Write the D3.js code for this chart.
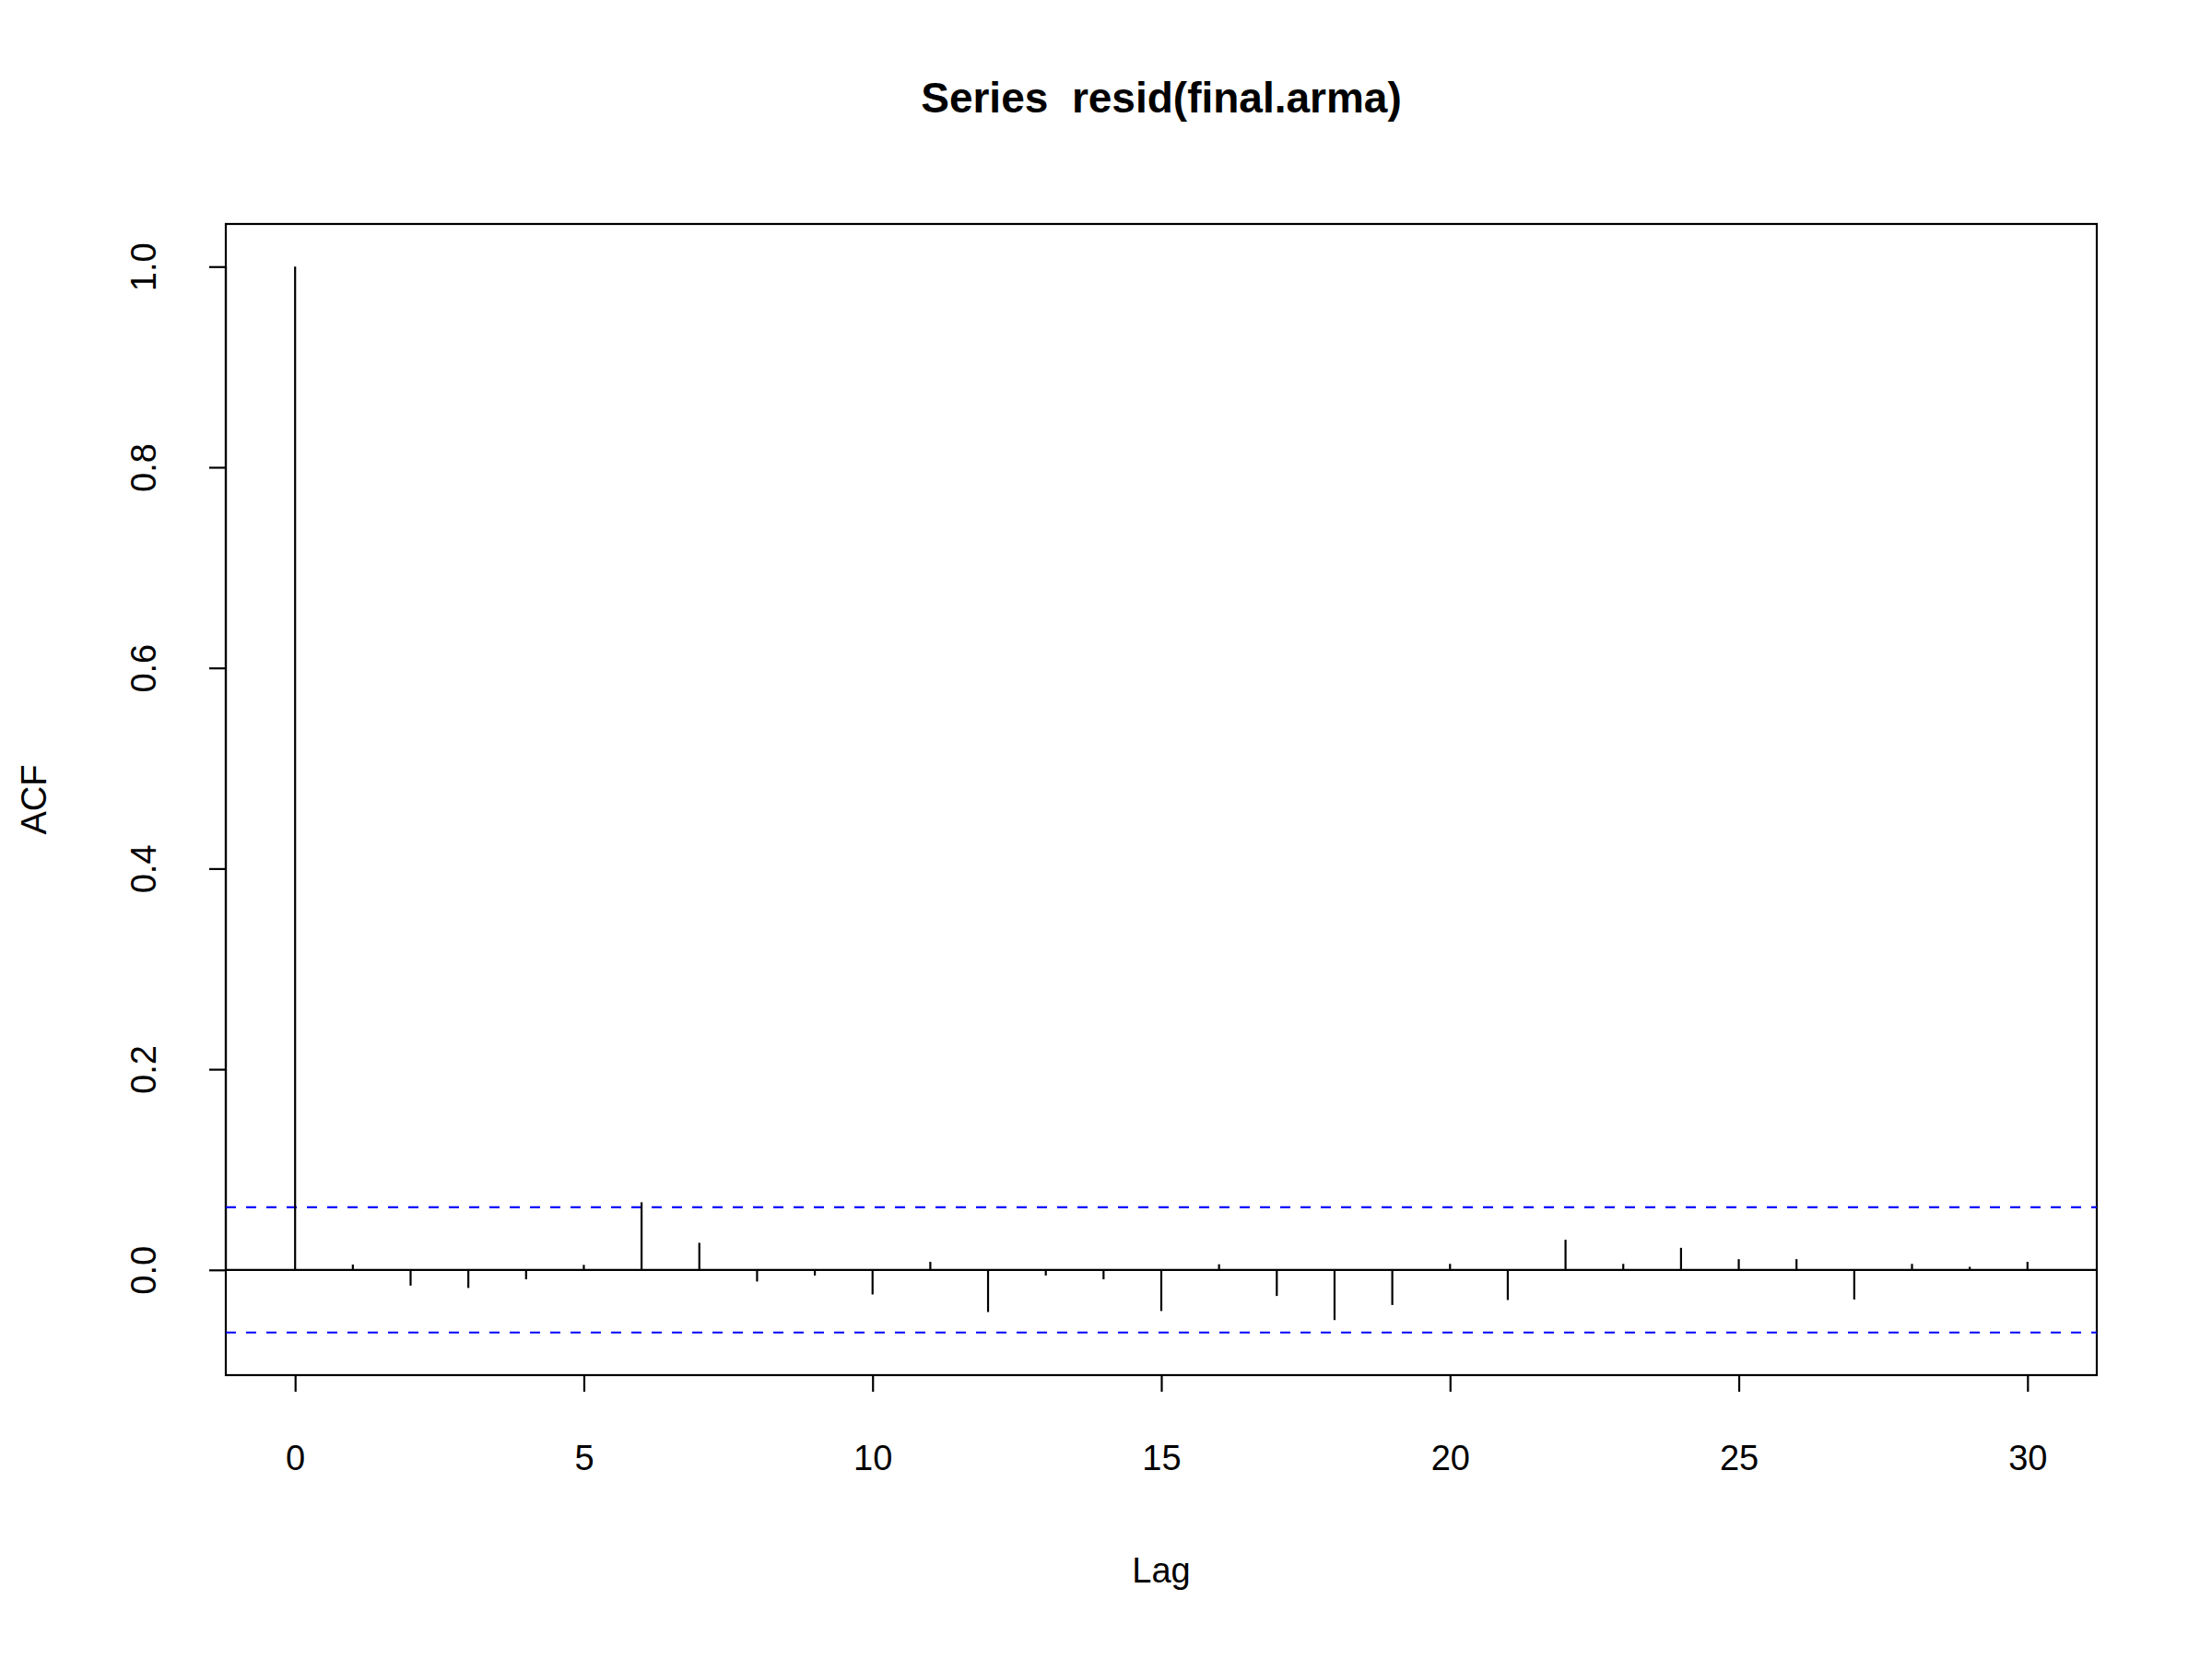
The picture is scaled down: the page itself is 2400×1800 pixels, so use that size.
<!DOCTYPE html>
<html><head><meta charset="utf-8">
<script src="https://cdn.jsdelivr.net/npm/d3@7"></script>
<style>body{margin:0;background:#fff}</style></head>
<body><svg id="c" width="2400" height="1800"></svg>
<script>
const lags = d3.range(0,31);
const acf = [1.0,0.0053,-0.0157,-0.018,-0.0094,0.005,0.0674,0.027,-0.0116,-0.0056,-0.0245,0.008,-0.042,-0.0056,-0.0094,-0.041,0.0056,-0.026,-0.050,-0.035,0.006,-0.030,0.030,0.006,0.022,0.0107,0.0107,-0.0295,0.006,0.003,0.008];
const ci = 0.0624;
const xTicks = [0,5,10,15,20,25,30];
const yTicks = [0,0.2,0.4,0.6,0.8,1.0];

const svg = d3.select("#c");
const L=245,R=2275,T=243,B=1492;
const x = d3.scaleLinear().domain([-1.2,31.2]).range([L,R]);
const y = d3.scaleLinear().domain([-0.1049,1.0425]).range([B,T]);
const font = "Liberation Sans, Arial, sans-serif";

svg.append("g").attr("transform",`translate(0,${B})`)
  .call(d3.axisBottom(x).tickValues(xTicks).tickSize(18).tickPadding(58).tickFormat(d3.format("d")))
  .call(g=>{g.select(".domain").attr("d",`M${x(0)},0H${x(30)}`).attr("stroke-width",2.2);
    g.selectAll("line").attr("stroke-width",2.2);
    g.selectAll("text").attr("font-family",font).attr("font-size",38).attr("fill","#000");});

const ya = svg.append("g").attr("transform",`translate(${L},0)`)
  .call(d3.axisLeft(y).tickValues(yTicks).tickSize(18).tickPadding(0).tickFormat(d3.format(".1f")));
ya.select(".domain").attr("d",`M0,${y(0)}V${y(1)}`).attr("stroke-width",2.2);
ya.selectAll("line").attr("stroke-width",2.2);
ya.selectAll("text").attr("font-family",font).attr("font-size",38).attr("fill","#000")
  .attr("x",0).attr("dy",0).attr("text-anchor","middle")
  .attr("transform",`translate(-76,0) rotate(-90)`);

svg.append("rect").attr("x",L).attr("y",T).attr("width",R-L).attr("height",B-T)
  .attr("fill","none").attr("stroke","#000").attr("stroke-width",2.2);

svg.append("line").attr("x1",L).attr("x2",R).attr("y1",y(0)).attr("y2",y(0)).attr("stroke","#000").attr("stroke-width",2.2);
[ci,-ci].forEach(v=>svg.append("line").attr("x1",L).attr("x2",R).attr("y1",y(v)).attr("y2",y(v))
  .attr("stroke","#0000ff").attr("stroke-width",2.2).attr("stroke-dasharray","11,11"));

svg.selectAll(".bar").data(lags).enter().append("line")
  .attr("x1",d=>x(d)).attr("x2",d=>x(d)).attr("y1",y(0)).attr("y2",d=>y(acf[d]))
  .attr("stroke","#000").attr("stroke-width",2.2);

svg.append("text").attr("x",1260).attr("y",122).attr("text-anchor","middle").style("white-space","pre")
  .attr("font-family",font).attr("font-weight","bold").attr("font-size",46).text("Series  resid(final.arma)");
svg.append("text").attr("x",1260).attr("y",1717).attr("text-anchor","middle")
  .attr("font-family",font).attr("font-size",38).text("Lag");
svg.append("text").attr("transform",`translate(50,${(T+B)/2}) rotate(-90)`).attr("text-anchor","middle")
  .attr("font-family",font).attr("font-size",38).text("ACF");
</script></body></html>
